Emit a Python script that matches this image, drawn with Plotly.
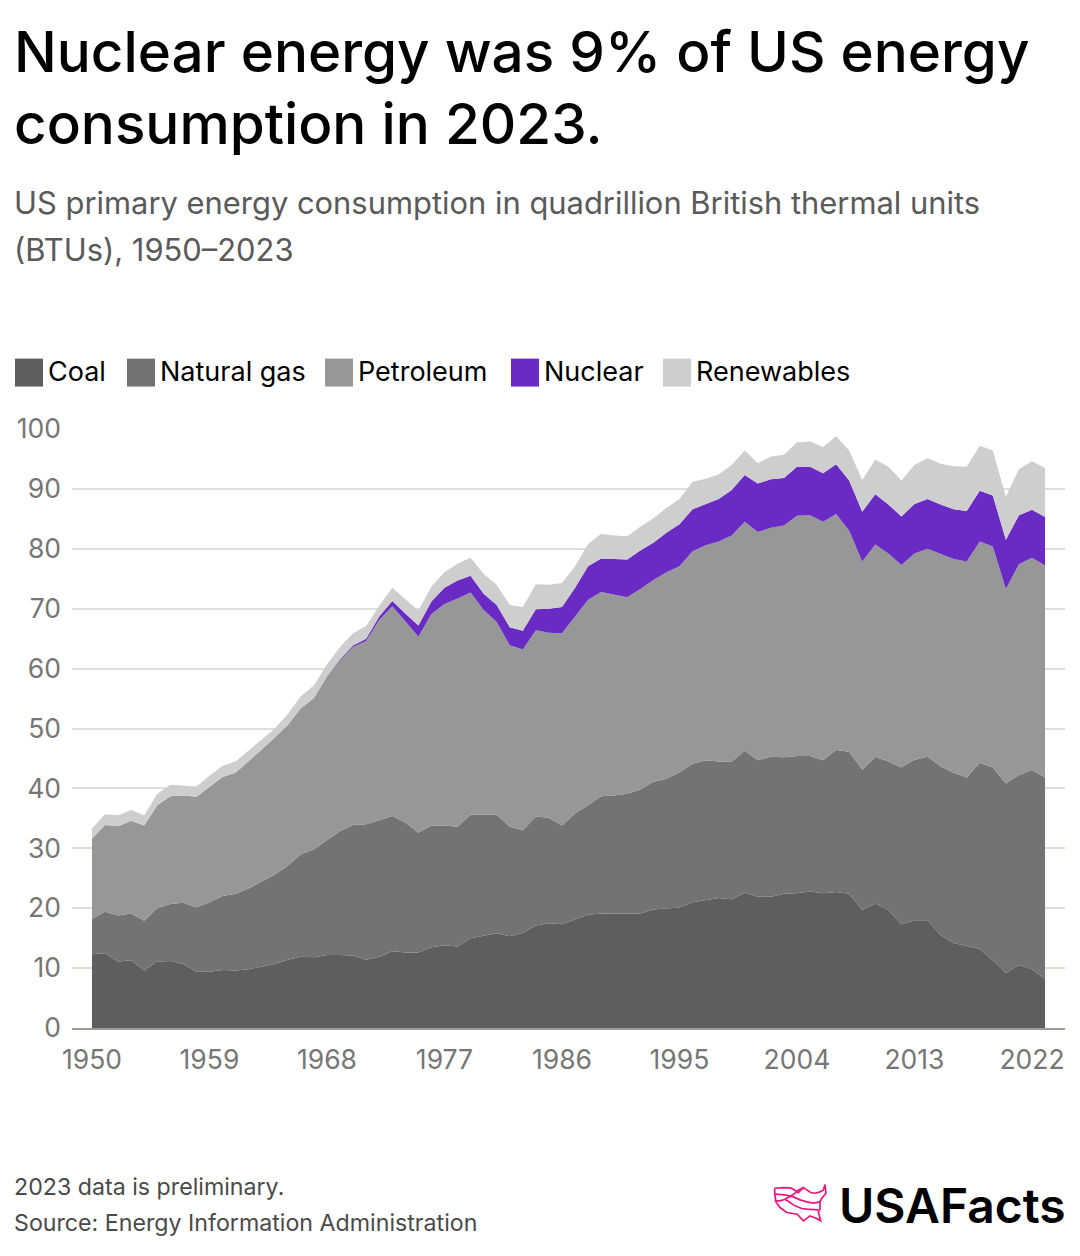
import numpy as np
import plotly.graph_objects as go

years = list(range(1950, 2024))
tick_years = [1950, 1959, 1968, 1977, 1986, 1995, 2004, 2013, 2022]
y_ticks = [0, 10, 20, 30, 40, 50, 60, 70, 80, 90, 100]
names = ["Coal", "Natural gas", "Petroleum", "Nuclear", "Renewables"]

# Top edge of each stacked band (quadrillion BTU)
coal_top = [12.3,12.5,11.1,11.3,9.6,11.1,11.2,10.7,9.4,9.4,9.7,9.6,9.8,10.2,10.7,11.4,11.9,11.8,12.2,12.2,12.1,11.4,11.9,12.8,12.6,12.6,13.5,13.8,13.6,15.0,15.4,15.8,15.3,15.9,17.1,17.5,17.3,18.1,18.9,19.1,19.1,19.1,19.1,19.8,20.0,20.1,21.0,21.4,21.7,21.5,22.6,21.9,21.9,22.4,22.5,22.8,22.5,22.7,22.4,19.7,20.8,19.7,17.3,18.0,18.0,15.5,14.2,13.7,13.2,11.3,9.2,10.5,9.8,8.2]
gas_top = [18.2,19.4,18.8,19.1,17.9,20.0,20.7,20.9,20.1,21.0,22.05,22.4,23.3,24.4,25.6,27.1,29.0,29.8,31.4,32.9,33.9,34.0,34.7,35.4,34.3,32.6,33.8,33.8,33.6,35.6,35.6,35.6,33.6,33.0,35.3,35.1,33.8,35.8,37.2,38.7,38.8,39.1,39.8,41.1,41.6,42.7,44.1,44.7,44.5,44.5,46.3,44.7,45.3,45.2,45.4,45.4,44.7,46.4,46.1,43.1,45.3,44.5,43.5,44.8,45.3,43.7,42.6,41.8,44.3,43.5,40.8,42.2,43.1,41.8]
pet_top = [31.6,33.9,33.7,34.6,33.8,37.2,38.7,38.8,38.6,40.3,41.9,42.6,44.5,46.5,48.5,50.6,53.4,55.1,58.6,61.4,63.6,64.6,68.1,70.4,67.9,65.3,69.1,70.8,71.7,72.7,69.8,67.8,63.9,63.2,66.4,66.0,65.9,68.8,71.5,72.8,72.3,71.9,73.3,74.8,76.1,77.1,79.6,80.6,81.2,82.2,84.5,82.8,83.5,83.9,85.5,85.6,84.5,85.8,83.0,77.9,80.7,79.2,77.3,79.2,80.0,79.1,78.3,77.9,81.2,80.4,73.3,77.4,78.5,77.2]
nuc_top = [31.6,33.9,33.7,34.6,33.8,37.2,38.7,38.8,38.6,40.3,41.9,42.6,44.5,46.5,48.5,50.6,53.4,55.1,58.7,61.55,63.85,65.0,68.7,71.3,69.2,67.2,71.2,73.5,74.7,75.5,72.5,70.6,66.9,66.3,69.9,70.0,70.3,73.5,77.1,78.4,78.3,78.2,79.7,81.0,82.7,84.1,86.6,87.4,88.3,89.8,92.3,90.9,91.6,91.8,93.7,93.7,92.6,94.1,91.4,86.2,89.1,87.4,85.4,87.5,88.3,87.4,86.6,86.3,89.7,88.9,81.5,85.6,86.5,85.3]
ren_top = [33.3,35.7,35.5,36.4,35.5,39.1,40.6,40.5,40.3,42.1,43.8,44.5,46.3,48.1,50.0,52.4,55.4,57.2,60.7,63.6,65.9,67.1,70.5,73.5,71.6,69.7,73.7,76.1,77.5,78.5,75.8,74.0,70.6,70.3,74.1,74.0,74.3,77.1,80.8,82.5,82.2,82.1,83.7,85.1,86.8,88.3,91.2,91.7,92.4,94.0,96.4,94.3,95.4,95.7,97.8,97.9,97.0,98.8,96.4,91.5,94.9,93.7,91.4,94.0,95.1,94.2,93.8,93.7,97.2,96.4,88.7,93.3,94.6,93.5]

tops = [coal_top, gas_top, pet_top, nuc_top, ren_top]
bands = np.diff(np.array([[0.0] * 74] + tops), axis=0)
colors = ["#5e5e5e", "#737373", "#979797", "#692bc4", "#cecece"]

W, H = 1080, 1256
L, R, T, B = 72, 15, 428.5, 227.5
pw, ph = W - L - R, H - T - B
px = lambda x: (x - L) / pw
py = lambda y: (H - B - y) / ph

fig = go.Figure()
for n, v, c in zip(names, bands, colors):
    fig.add_trace(go.Scatter(x=years, y=np.round(v, 2).tolist(), name=n, stackgroup="one", mode="lines",
                             line=dict(width=0, color=c), fillcolor=c, showlegend=False))

FONT = "Inter"
anns = []
def text(x, y, s, size, color, anchor="left", weight=400):
    anns.append(dict(text=s, x=px(x), y=py(y), xref="paper", yref="paper", xanchor=anchor, yanchor="middle",
                     showarrow=False, align=anchor, font=dict(family=FONT, size=size, color=color, weight=weight)))

text(12, 50, "Nuclear energy was 9% of US energy", 56.6, "#000000", weight=500)
text(12, 122, "consumption in 2023.", 56.6, "#000000", weight=500)
text(12, 202, "US primary energy consumption in quadrillion British thermal units", 30.9, "#5a5a5a")
text(12, 249, "(BTUs), 1950–2023", 30.9, "#5a5a5a")
text(12, 1187.5, "2023 data is preliminary.", 23.2, "#4a4a4a")
text(12, 1223.5, "Source: Energy Information Administration", 23.2, "#4a4a4a")
text(837, 1206, "USAFacts", 48, "#000000", weight=600)

shapes = []
leg_x = [15, 127, 325, 511, 663]
for x0, n, c in zip(leg_x, names, colors):
    shapes.append(dict(type="rect", xref="paper", yref="paper", x0=px(x0), x1=px(x0 + 28), y0=py(386), y1=py(358),
                       fillcolor=c, line=dict(width=0)))
    text(x0 + 31, 371, n, 27, "#000000")

# USAFacts map mark, in zoom-crop coordinates (3x from 770,1180)
logo_paths = [
    [(14,27),(40,25),(62,26),(75,33),(85,40),(100,25),(110,32),(122,40),(135,42),(150,38),(160,32),(165,16),(168,42),(155,58),(150,68),(150,90),(145,98),(152,125),(140,118),(120,110),(100,125),(82,105),(50,100),(30,85),(18,68),(14,45),(14,27)],
    [(14,45),(45,47),(70,53),(90,62),(110,68),(130,72),(150,68)],
    [(14,65),(30,65),(45,60),(60,52),(75,42),(85,33),(100,25)],
    [(45,60),(60,70),(75,80),(95,88),(110,90),(145,92)],
]
for path in logo_paths:
    d = "M " + " L ".join(f"{px(770 + a / 3):.5f},{py(1180 + b / 3):.5f}" for a, b in path)
    shapes.append(dict(type="path", xref="paper", yref="paper", path=d, line=dict(color="#e6197e", width=1.7)))

fig.update_layout(
    width=W, height=H, margin=dict(l=L, r=R, t=T, b=B, pad=0), autosize=False,
    paper_bgcolor="white", plot_bgcolor="white", showlegend=False,
    font=dict(family=FONT), annotations=anns, shapes=shapes,
    xaxis=dict(range=[1948.47, 2024.53], tickmode="array", tickvals=tick_years, ticktext=[str(t) for t in tick_years],
               showgrid=False, zeroline=False, showline=True, linecolor="#9c9c94", linewidth=2,
               ticks="", tickfont=dict(family=FONT, size=26.5, color="#767676"), ticklabelstandoff=7),
    yaxis=dict(range=[0, 100], tickmode="array", tickvals=y_ticks, showgrid=True, gridcolor="#dfdfd8", gridwidth=2,
               zeroline=False, showline=False, ticks="", tickfont=dict(family=FONT, size=26.5, color="#767676"),
               ticklabelstandoff=10),
)
fig.write_html("out.html", config=dict(displayModeBar=False), post_script="document.body.style.margin='0';")
